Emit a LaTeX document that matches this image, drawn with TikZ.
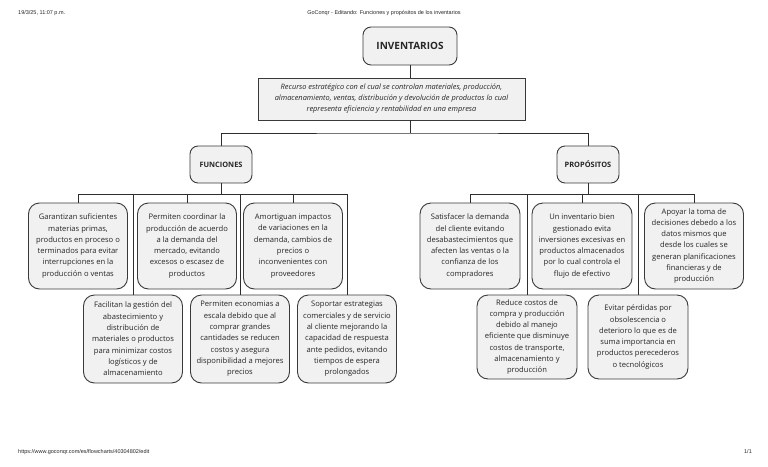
\documentclass[tikz,border=0pt]{standalone}
\usepackage{fontspec}
\setmainfont{Open Sans}
\newfontfamily\hdrfont{Liberation Sans}
\definecolor{boxfill}{HTML}{F1F1F1}
\definecolor{boxline}{HTML}{3A3A3A}
\definecolor{conn}{HTML}{2E2E2E}
\definecolor{txt}{HTML}{262626}
\begin{document}
\begin{tikzpicture}[x=1pt,y=-1pt,
  card/.style={draw=boxline,line width=0.9pt,fill=boxfill,rounded corners=11pt,
    text=txt,align=center,inner sep=0pt,
    font=\fontsize{7.6}{11.3}\selectfont},
  topcard/.style={card,minimum width=99pt,minimum height=86pt},
  botcard/.style={card,minimum width=99pt,minimum height=88pt},
  head/.style={draw=boxline,line width=0.9pt,fill=boxfill,rounded corners=8pt,
    text=txt,align=center,inner sep=0pt,font=\bfseries\fontsize{7.4}{9}\selectfont,
    minimum width=62pt,minimum height=37pt},
  link/.style={draw=conn,line width=1pt},
  hdr/.style={font=\hdrfont\fontsize{5.5}{6.5}\selectfont,text=txt,inner sep=0pt}
]
\useasboundingbox[fill=white] (0,0) rectangle (768,466);
% page header/footer
\node[hdr,anchor=west] (date) at (18,13) {19/3/25, 11:07 p.m.};
\node[hdr] (title) at (384,13) {GoConqr - Editando: Funciones y propósitos de los inventarios};
\node[hdr,anchor=west] (url) at (18,452) {https://www.goconqr.com/es/flowcharts/40304802/edit};
\node[hdr,anchor=east] (pg) at (752,452) {1/1};
% root
\node[head,font=\bfseries\fontsize{10}{12}\selectfont,minimum width=94pt,minimum height=38pt] (inv) at (410,46) {INVENTARIOS};
\node[draw=boxline,line width=0.9pt,fill=boxfill,text=txt,align=center,inner sep=0pt,
  minimum width=267pt,minimum height=42pt,font=\itshape\fontsize{7.4}{11}\selectfont] (desc) at (391.5,99)
  {Recurso estratégico con el cual se controlan materiales, producción,\\
   almacenamiento, ventas, distribución y devolución de productos lo cual\\
   representa eficiencia y rentabilidad en una empresa};
\node[head] (fun) at (221,164.5) {FUNCIONES};
\node[head] (pro) at (588,164.5) {PROPÓSITOS};
% funciones
\node[topcard] (f1) at (78,246) {Garantizan suficientes\\materias primas,\\productos en proceso o\\terminados para evitar\\interrupciones en la\\producción o ventas};
\node[topcard] (f2) at (187,246) {Permiten coordinar la\\producción de acuerdo\\a la demanda del\\mercado, evitando\\excesos o escasez de\\productos};
\node[topcard] (f3) at (293,246) {Amortiguan impactos\\de variaciones en la\\demanda, cambios de\\precios o\\inconvenientes con\\proveedores};
\node[botcard] (f4) at (133,339) {Facilitan la gestión del\\abastecimiento y\\distribución de\\materiales o productos\\para minimizar costos\\logísticos y de\\almacenamiento};
\node[botcard] (f5) at (240,339) {Permiten economias a\\escala debido que al\\comprar grandes\\cantidades se reducen\\costos y asegura\\disponibilidad a mejores\\precios};
\node[botcard] (f6) at (347,339) {Soportar estrategias\\comerciales y de servicio\\al cliente mejorando la\\capacidad de respuesta\\ante pedidos, evitando\\tiempos de espera\\prolongados};
% propositos
\node[topcard,minimum width=100pt] (p1) at (470,246) {Satisfacer la demanda\\del cliente evitando\\desabastecimientos que\\afecten las ventas o la\\confianza de los\\compradores};
\node[topcard,minimum width=100pt] (p2) at (582,246) {Un inventario bien\\gestionado evita\\inversiones excesivas en\\productos almacenados\\por lo cual controla el\\flujo de efectivo};
\node[topcard,minimum width=99pt] (p3) at (694,246) {Apoyar la toma de\\decisiones debedo a los\\datos mismos que\\desde los cuales se\\generan planificaciones\\financieras y de\\producción};
\node[botcard,minimum width=100pt,minimum height=84pt] (p4) at (527,337) {Reduce costos de\\compra y producción\\debido al manejo\\eficiente que disminuye\\costos de transporte,\\almacenamiento y\\producción};
\node[botcard,minimum width=100pt,minimum height=84pt] (p5) at (638,337) {Evitar pérdidas por\\obsolescencia o\\deterioro lo que es de\\suma importancia en\\productos perecederos\\o tecnológicos};
% junctions
\coordinate (j1) at (410,133);
\coordinate (jf) at (221,194);
\coordinate (jp) at (588,194);
% connectors
\draw[link] (inv.south) -- (inv.south |- desc.north);
\draw[link] (inv.south |- desc.south) -- (j1);
\draw[link] (fun.north) |- (j1) -| (pro.north);
\draw[link] (fun.south) -- (jf);
\draw[link] (pro.south) -- (jp);
\foreach \n in {f1,f2,f3,f4,f5,f6} \draw[link] (\n.north) |- (jf);
\foreach \n in {p1,p2,p3,p4,p5} \draw[link] (\n.north) |- (jp);
\end{tikzpicture}
\end{document}
